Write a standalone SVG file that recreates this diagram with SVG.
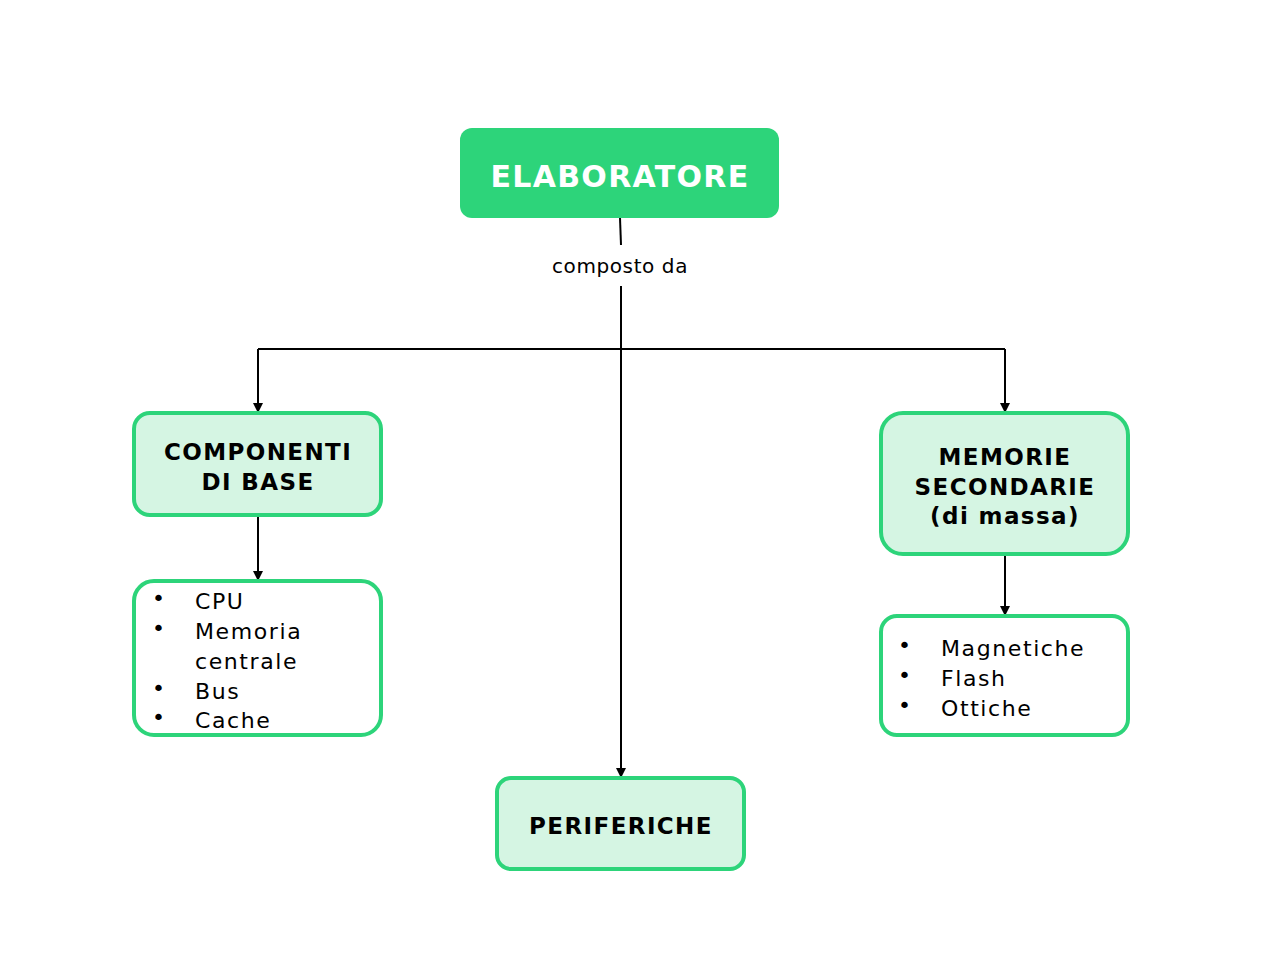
<svg xmlns="http://www.w3.org/2000/svg" width="1280" height="960" viewBox="0 0 1280 960">
<style>
.box{fill:#d5f5e3;stroke:#2dd47a;stroke-width:4}
.list{fill:#ffffff;stroke:#2dd47a;stroke-width:4}
.t{font-family:"DejaVu Sans",Verdana,sans-serif;fill:#000}
.b{font-weight:bold;font-size:23px;letter-spacing:1.4px}
.l{font-size:22px;letter-spacing:1.6px}
.c{stroke:#000;stroke-width:2;fill:none}
</style>
<rect width="1280" height="960" fill="#fff"/>
<g id="connectors">
<line class="c" x1="620" y1="218" x2="621" y2="245"/>
<line class="c" x1="621" y1="286" x2="621" y2="349"/>
<path class="c" d="M258,349 H1005"/>
<path d="M258,349 V404" class="c"/>
<path d="M253,403 L263,403 L258,413 Z" fill="#000"/>
<path d="M1005,349 V404" class="c"/>
<path d="M1000,403 L1010,403 L1005,413 Z" fill="#000"/>
<path d="M621,349 V769" class="c"/>
<path d="M616,768 L626,768 L621,778 Z" fill="#000"/>
<path d="M258,515 V572" class="c"/>
<path d="M253,571 L263,571 L258,581 Z" fill="#000"/>
<path d="M1005,554 V607" class="c"/>
<path d="M1000,606 L1010,606 L1005,616 Z" fill="#000"/>
<text class="t" x="620" y="273" text-anchor="middle" font-size="20" style="letter-spacing:0.6px">composto da</text>
</g>
<g id="elaboratore">
<rect x="460" y="128" width="319" height="90" rx="12" fill="#2dd47a"/>
<text class="t" x="620" y="187" text-anchor="middle" font-size="30" font-weight="bold" style="fill:#fff;letter-spacing:1.3px">ELABORATORE</text>
</g>
<g id="componenti">
<rect class="box" x="134" y="413" width="247" height="102" rx="16"/>
<text class="t b" x="258" y="460" text-anchor="middle">COMPONENTI</text>
<text class="t b" x="258" y="490" text-anchor="middle">DI BASE</text>
</g>
<g id="lista-componenti">
<rect class="list" x="134" y="581" width="247" height="154" rx="20"/>
<g class="t l">
<text x="152" y="606">•</text><text x="195" y="609">CPU</text>
<text x="152" y="636">•</text><text x="195" y="639">Memoria</text>
<text x="195" y="669">centrale</text>
<text x="152" y="696">•</text><text x="195" y="699">Bus</text>
<text x="152" y="725">•</text><text x="195" y="728">Cache</text>
</g>
</g>
<g id="memorie">
<rect class="box" x="881" y="413" width="247" height="141" rx="22"/>
<text class="t b" x="1005" y="465" text-anchor="middle">MEMORIE</text>
<text class="t b" x="1005" y="495" text-anchor="middle">SECONDARIE</text>
<text class="t b" x="1005" y="524" text-anchor="middle">(di massa)</text>
</g>
<g id="lista-memorie">
<rect class="list" x="881" y="616" width="247" height="119" rx="16"/>
<g class="t l">
<text x="898" y="653">•</text><text x="941" y="656">Magnetiche</text>
<text x="898" y="683">•</text><text x="941" y="686">Flash</text>
<text x="898" y="713">•</text><text x="941" y="716">Ottiche</text>
</g>
</g>
<g id="periferiche">
<rect class="box" x="497" y="778" width="247" height="91" rx="14"/>
<text class="t b" x="621" y="834" text-anchor="middle">PERIFERICHE</text>
</g>
</svg>
